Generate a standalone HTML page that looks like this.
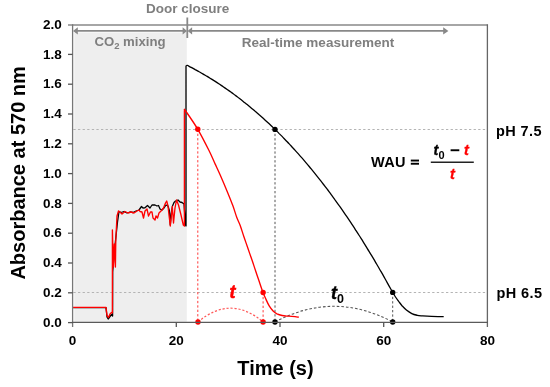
<!DOCTYPE html>
<html><head><meta charset="utf-8">
<style>
html,body{margin:0;padding:0;background:#fff;}
svg{display:block;}
text{font-family:"Liberation Sans",Arial,sans-serif;}
</style></head>
<body>
<svg width="550" height="387" viewBox="0 0 550 387">
<!-- shaded CO2 mixing region -->
<rect x="74.3" y="32.5" width="112.5" height="289.3" fill="#eeeeee"/>
<!-- gridlines -->
<g stroke="#b4b4b4" stroke-width="1" stroke-dasharray="2.3 2.3" fill="none">
<line x1="73.4" y1="129.5" x2="487" y2="129.5"/>
<line x1="73.4" y1="292.5" x2="487" y2="292.5"/>
</g>
<!-- drop lines -->
<g stroke-width="1" stroke-dasharray="2.3 2.1" fill="none">
<line x1="197.8" y1="129.3" x2="197.8" y2="322" stroke="#ff3b3b"/>
<line x1="263.1" y1="292.5" x2="263.1" y2="322" stroke="#ff3b3b"/>
<line x1="275" y1="129.4" x2="275" y2="322" stroke="#555"/>
<line x1="392.7" y1="292.4" x2="392.7" y2="322" stroke="#555"/>
</g>
<!-- arcs -->
<path d="M198,322 Q230.6,294.4 263.1,322" stroke="#ff5a5a" stroke-width="1.2" stroke-dasharray="2.2 1.8" fill="none"/>
<path d="M275,322 Q333.8,290.6 392.7,322" stroke="#555" stroke-width="1.1" stroke-dasharray="2.6 2" fill="none"/>
<!-- data -->
<path d="M72.6,307.6 L106,307.6 L107,317 L108.2,319 L110,316.5 L111.5,314.5 L112.6,316 L112.7,272 L114.5,250 L116,236 L117.5,222 L119,211.5 L121,212.5 L124,211.5 L127,213 L130,212 L133,212.5 L136,211 L139,210 L141.5,206.5 L143,208 L145,207.8 L147.5,205.5 L150,208 L152,205 L155,205 L157,206 L158.5,205.5 L160,209 L162,210 L164,208 L166,205 L168,206 L169.5,211 L170.3,225 L171.2,214 L172.5,206 L174,202.5 L175.5,201 L178,200 L180,202 L182,202.5 L184,204 L185.5,225 L186,226 L186,66 L187.2,65.3 C187.9,65.7 189.9,66.7 191.2,67.4 C192.5,68.1 193.9,68.8 195.2,69.6 C196.5,70.3 197.9,71 199.2,71.8 C200.5,72.5 201.9,73.3 203.2,74.1 C204.5,74.9 205.9,75.6 207.2,76.4 C208.5,77.3 209.9,78.1 211.2,78.9 C212.5,79.7 213.9,80.6 215.2,81.4 C216.5,82.3 217.9,83.2 219.2,84 C220.5,84.9 221.9,85.8 223.2,86.7 C224.5,87.6 225.9,88.6 227.2,89.5 C228.5,90.4 229.9,91.4 231.2,92.3 C232.5,93.3 233.9,94.3 235.2,95.3 C236.5,96.3 237.9,97.3 239.2,98.3 C240.5,99.3 241.9,100.4 243.2,101.4 C244.5,102.5 245.9,103.5 247.2,104.6 C248.5,105.7 249.9,106.8 251.2,107.9 C252.5,109 253.9,110.1 255.2,111.3 C256.5,112.4 257.9,113.6 259.2,114.8 C260.5,115.9 261.9,117.1 263.2,118.3 C264.5,119.5 265.9,120.8 267.2,122 C268.5,123.2 269.9,124.5 271.2,125.7 C272.5,127 273.9,128.3 275.2,129.6 C276.5,130.9 277.9,132.2 279.2,133.6 C280.5,134.9 281.9,136.2 283.2,137.6 C284.5,139 285.9,140.4 287.2,141.8 C288.5,143.2 289.9,144.6 291.2,146 C292.5,147.5 293.9,148.9 295.2,150.4 C296.5,151.9 297.9,153.4 299.2,154.9 C300.5,156.4 301.9,157.9 303.2,159.4 C304.5,161 305.9,162.6 307.2,164.1 C308.5,165.7 309.9,167.3 311.2,168.9 C312.5,170.5 313.9,172.2 315.2,173.8 C316.5,175.5 317.9,177.2 319.2,178.8 C320.5,180.5 321.9,182.2 323.2,184 C324.5,185.7 325.9,187.5 327.2,189.2 C328.5,191 329.9,192.8 331.2,194.6 C332.5,196.4 333.9,198.2 335.2,200.1 C336.5,201.9 337.9,203.8 339.2,205.7 C340.5,207.5 341.9,209.5 343.2,211.4 C344.5,213.3 345.9,215.3 347.2,217.2 C348.5,219.2 349.9,221.2 351.2,223.2 C352.5,225.2 353.9,227.2 355.2,229.3 C356.5,231.3 357.9,233.4 359.2,235.5 C360.5,237.6 361.9,239.7 363.2,241.8 C364.5,243.9 365.9,246.1 367.2,248.3 C368.5,250.5 369.9,252.7 371.2,254.9 C372.5,257.1 373.9,259.3 375.2,261.6 C376.5,263.9 377.9,266.1 379.2,268.5 C380.5,270.8 381.9,273.1 383.2,275.4 C384.5,277.8 385.9,280.2 387.2,282.6 C388.5,285 390.3,288.2 391.2,289.8 C392.1,291.4 392,291.1 392.7,292.3 C393.4,293.5 394.5,295.5 395.5,297 C396.5,298.5 397.6,299.9 398.7,301.4 C399.8,302.8 400.7,304.2 402,305.7 C403.3,307.1 404.8,308.8 406.4,310.1 C408,311.4 410,312.7 411.8,313.6 C413.6,314.5 415.5,314.9 417.3,315.3 C419.1,315.7 420.3,315.7 422.7,315.9 C425.1,316.1 428,316.3 431.5,316.4 C435,316.5 441.7,316.6 443.7,316.6" stroke="#000" stroke-width="1.3" fill="none" stroke-linejoin="round"/>
<path d="M72.6,307.4 L106,307.4 L107,315.5 L108.5,317.5 L110,314 L111.5,312.5 L112.4,313 L112.4,230 L113.3,267 L114.3,244 L115.4,267 L115.8,240 L117,216 L118.5,211 L120,212 L122,214 L125,211.5 L128,213 L131,212 L134,213 L137,211 L139,210 L140,211.5 L142,212 L143.5,218 L145,211 L147,209 L148.5,216 L150.5,212 L152,212 L153,218 L155,220 L156,216 L157.5,218 L159,213 L161,211 L163.5,208 L165.5,203 L166.7,201 L168,206 L169,215 L170.3,226 L171.5,214 L172.3,206.5 L173.5,223 L175,208 L176.5,200 L178.5,205 L181,215 L183.3,225 L184.4,226 L184.4,110.4 L184.6,110.2 C184.8,110.3 183.4,107.7 185.6,110.9 C187.8,114.1 193.9,122.7 197.8,129.3 C201.7,135.9 206.1,144.7 209,150.5 C211.9,156.3 213.3,160 215.2,164.1 C217.1,168.2 218.1,170.2 220.2,175 C222.3,179.8 225.7,187.8 227.8,192.9 C229.9,198 231.4,201.7 232.9,205.8 C234.4,209.9 235.6,214.2 236.8,217.5 C238,220.8 239,222.2 240.2,225.5 C241.4,228.8 242.7,233.2 244,237 C245.3,240.8 246.6,244.5 247.9,248.3 C249.2,252.1 250.7,256.3 252,260 C253.3,263.7 254.3,267.1 255.5,270.5 C256.6,273.9 257.6,276.8 258.9,280.5 C260.1,284.2 261.8,289.4 263,292.5 C264.2,295.6 265,297.2 266,299.4 C267,301.6 268,303.9 269.2,305.8 C270.4,307.7 271.8,309.6 273.1,311 C274.4,312.4 275.5,313.1 277,313.9 C278.5,314.6 280.2,315.1 282.1,315.5 C284,315.9 286.5,316 288.6,316.2 C290.8,316.4 293.3,316.4 295,316.6 C296.7,316.8 298.2,317.1 298.9,317.2" stroke="#ff0000" stroke-width="1.35" fill="none" stroke-linejoin="round"/>
<!-- markers -->
<g fill="#ff0000">
<circle cx="197.8" cy="129.3" r="2.7"/><circle cx="263.1" cy="292.5" r="2.7"/>
<circle cx="198" cy="322" r="2.7"/><circle cx="263.1" cy="322" r="2.7"/>
</g>
<g fill="#000">
<circle cx="275" cy="129.4" r="2.7"/><circle cx="392.7" cy="292.4" r="2.7"/>
<circle cx="275" cy="322" r="2.7"/><circle cx="392.7" cy="322" r="2.7"/>
</g>
<!-- frame -->
<line x1="68" y1="25" x2="487.4" y2="25" stroke="#888" stroke-width="1.6"/>
<line x1="487.4" y1="24.2" x2="487.4" y2="327" stroke="#666" stroke-width="1.3"/>
<line x1="72.6" y1="24.2" x2="72.6" y2="327" stroke="#777" stroke-width="1.3"/>
<line x1="72" y1="322.4" x2="488" y2="322.4" stroke="#5a5a5a" stroke-width="1.3"/>
<g stroke="#555" stroke-width="1.3">
<line x1="68" y1="322.6" x2="72.6" y2="322.6"/><line x1="68" y1="292.8" x2="72.6" y2="292.8"/><line x1="68" y1="263" x2="72.6" y2="263"/><line x1="68" y1="233.2" x2="72.6" y2="233.2"/><line x1="68" y1="203.4" x2="72.6" y2="203.4"/><line x1="68" y1="173.6" x2="72.6" y2="173.6"/><line x1="68" y1="143.8" x2="72.6" y2="143.8"/><line x1="68" y1="114" x2="72.6" y2="114"/><line x1="68" y1="84.2" x2="72.6" y2="84.2"/><line x1="68" y1="54.4" x2="72.6" y2="54.4"/>
<line x1="176.3" y1="322.4" x2="176.3" y2="327"/><line x1="280" y1="322.4" x2="280" y2="327"/><line x1="383.7" y1="322.4" x2="383.7" y2="327"/>
</g>
<!-- arrows -->
<g stroke="#888" stroke-width="1.8" fill="none">
<line x1="75" y1="30.9" x2="185" y2="30.9"/>
<line x1="190" y1="30.9" x2="446" y2="30.9"/>
<line x1="187.3" y1="17.5" x2="187.3" y2="38"/>
</g>
<g fill="#888">
<path d="M73,30.9 L77.8,27.3 L77.8,34.5 Z"/>
<path d="M187.1,30.9 L182.6,27.3 L182.6,34.5 Z"/>
<path d="M187.6,30.9 L192.1,27.3 L192.1,34.5 Z"/>
<path d="M448.4,30.9 L443.2,27.3 L443.2,34.5 Z"/>
</g>
<!-- top labels -->
<g font-weight="bold" font-size="13.5" fill="#7f7f7f">
<text x="187.7" y="13" text-anchor="middle">Door closure</text>
<text x="130" y="46.4" text-anchor="middle" font-size="13.2">CO<tspan font-size="9.5" dy="2.6">2</tspan><tspan dy="-2.6"> mixing</tspan></text>
<text x="318" y="46.5" text-anchor="middle" textLength="152.5" lengthAdjust="spacingAndGlyphs">Real-time measurement</text>
</g>
<!-- axis tick labels -->
<g font-weight="bold" font-size="13.5" fill="#000" text-anchor="end">
<text x="61.8" y="326.8">0.0</text><text x="61.8" y="297">0.2</text><text x="61.8" y="267.2">0.4</text><text x="61.8" y="237.4">0.6</text><text x="61.8" y="207.6">0.8</text><text x="61.8" y="177.8">1.0</text><text x="61.8" y="148">1.2</text><text x="61.8" y="118.2">1.4</text><text x="61.8" y="88.4">1.6</text><text x="61.8" y="58.6">1.8</text><text x="61.8" y="28.8">2.0</text>
</g>
<g font-weight="bold" font-size="13.5" fill="#000" text-anchor="middle">
<text x="72.6" y="344.5">0</text><text x="176.3" y="344.5">20</text><text x="280" y="344.5">40</text><text x="383.7" y="344.5">60</text><text x="487.4" y="344.5">80</text>
</g>
<text x="275.5" y="374.8" font-weight="bold" font-size="20" text-anchor="middle">Time (s)</text>
<text transform="translate(25,172.9) rotate(-90)" font-weight="bold" font-size="20" text-anchor="middle">Absorbance at 570 nm</text>
<!-- right labels -->
<g font-weight="bold" font-size="14" fill="#000">
<text x="496" y="135.6" font-size="14.5" letter-spacing="0.4">pH 7.5</text>
<text x="496.5" y="298.2" font-size="14.5" letter-spacing="0.4">pH 6.5</text>
<text x="371" y="167.4" font-size="14.5" letter-spacing="0.3">WAU</text>
<rect x="410.8" y="159.6" width="8.2" height="1.9"/>
<rect x="410.8" y="162.8" width="8.2" height="1.9"/>
</g>
<!-- fraction -->
<g font-weight="bold" font-size="14.5" stroke-width="0.35">
<text stroke="#000" x="433.6" y="155.1" font-style="italic">t</text>
<text x="438.6" y="159.3" font-size="11" stroke="none">0</text>
<rect x="450.6" y="149.3" width="8.7" height="1.9"/>
<text x="464" y="155.1" font-style="italic" fill="#ff0000" stroke="#ff0000">t</text>
<text x="450.1" y="179" font-style="italic" fill="#ff0000" stroke="#ff0000">t</text>
</g>
<line x1="430.8" y1="162.2" x2="473.8" y2="162.2" stroke="#222" stroke-width="1.6"/>
<!-- t labels -->
<text x="229.5" y="298.3" font-weight="bold" font-style="italic" font-size="18" fill="#ff0000" stroke="#ff0000" stroke-width="0.5">t</text>
<text x="331" y="298.6" font-weight="bold" font-style="italic" font-size="18" fill="#000" stroke="#000" stroke-width="0.4">t</text>
<text x="337" y="303.2" font-size="12.5" font-weight="bold" fill="#000">0</text>
</svg>
</body></html>
